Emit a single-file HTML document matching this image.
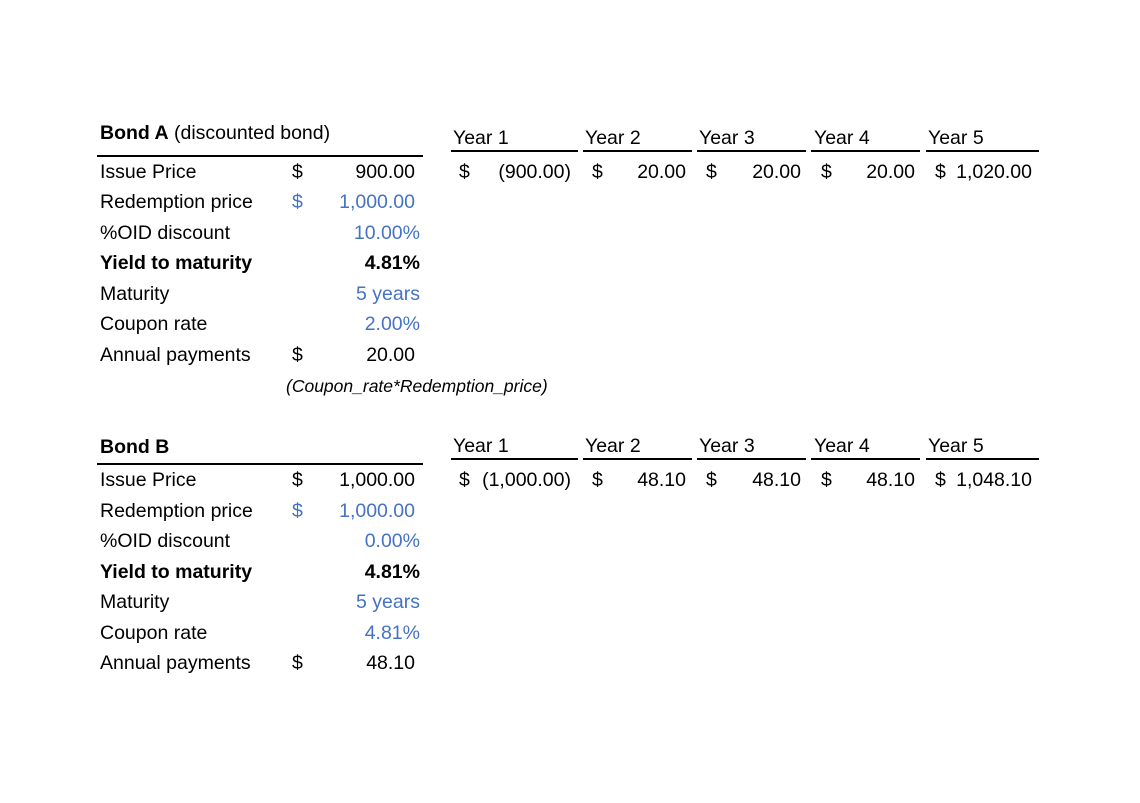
<!DOCTYPE html>
<html><head><meta charset="utf-8"><style>
body{margin:0;background:#fff;}
#c{position:relative;width:1140px;height:803px;overflow:hidden;font-family:"Liberation Sans",sans-serif;font-size:19.5px;color:#000;}
.t{position:absolute;line-height:22px;white-space:nowrap;}
.r{text-align:right;}
.b{color:#4472c4;}
.bold{font-weight:bold;}
.ln{position:absolute;background:#000;}
</style></head><body><div id="c">
<!-- Bond A -->
<div class="t" style="left:100px;top:122px"><b>Bond A</b> (discounted bond)</div>
<div class="ln" style="left:97px;top:155px;width:326px;height:2px"></div>
<div class="t" style="left:100px;top:161px">Issue Price</div>
<div class="t" style="left:292px;top:161px">$</div>
<div class="t r" style="right:725px;top:161px">900.00</div>
<div class="t" style="left:100px;top:191px">Redemption price</div>
<div class="t b" style="left:292px;top:191px">$</div>
<div class="t r b" style="right:725px;top:191px">1,000.00</div>
<div class="t" style="left:100px;top:222px">%OID discount</div>
<div class="t r b" style="right:720px;top:222px">10.00%</div>
<div class="t bold" style="left:100px;top:252px">Yield to maturity</div>
<div class="t r bold" style="right:720px;top:252px">4.81%</div>
<div class="t" style="left:100px;top:283px">Maturity</div>
<div class="t r b" style="right:720px;top:283px">5 years</div>
<div class="t" style="left:100px;top:313px">Coupon rate</div>
<div class="t r b" style="right:720px;top:313px">2.00%</div>
<div class="t" style="left:100px;top:344px">Annual payments</div>
<div class="t" style="left:292px;top:344px">$</div>
<div class="t r" style="right:725px;top:344px">20.00</div>
<div class="t" style="left:286px;top:375px;font-size:17.5px;font-style:italic">(Coupon_rate*Redemption_price)</div>
<!-- years A -->
<div class="t" style="left:453px;top:127px">Year 1</div>
<div class="t" style="left:585px;top:127px">Year 2</div>
<div class="t" style="left:699px;top:127px">Year 3</div>
<div class="t" style="left:814px;top:127px">Year 4</div>
<div class="t" style="left:928px;top:127px">Year 5</div>
<div class="ln" style="left:451px;top:150px;width:127px;height:1.5px"></div>
<div class="ln" style="left:583px;top:150px;width:109px;height:1.5px"></div>
<div class="ln" style="left:697px;top:150px;width:109px;height:1.5px"></div>
<div class="ln" style="left:811px;top:150px;width:109px;height:1.5px"></div>
<div class="ln" style="left:926px;top:150px;width:113px;height:1.5px"></div>
<div class="t" style="left:459px;top:161px">$</div>
<div class="t r" style="right:569px;top:161px">(900.00)</div>
<div class="t" style="left:592px;top:161px">$</div>
<div class="t r" style="right:454px;top:161px">20.00</div>
<div class="t" style="left:706px;top:161px">$</div>
<div class="t r" style="right:339px;top:161px">20.00</div>
<div class="t" style="left:821px;top:161px">$</div>
<div class="t r" style="right:225px;top:161px">20.00</div>
<div class="t" style="left:935px;top:161px">$</div>
<div class="t r" style="right:108px;top:161px">1,020.00</div>
<!-- Bond B -->
<div class="t bold" style="left:100px;top:436px">Bond B</div>
<div class="ln" style="left:97px;top:463px;width:326px;height:2px"></div>
<div class="t" style="left:100px;top:469px">Issue Price</div>
<div class="t" style="left:292px;top:469px">$</div>
<div class="t r" style="right:725px;top:469px">1,000.00</div>
<div class="t" style="left:100px;top:500px">Redemption price</div>
<div class="t b" style="left:292px;top:500px">$</div>
<div class="t r b" style="right:725px;top:500px">1,000.00</div>
<div class="t" style="left:100px;top:530px">%OID discount</div>
<div class="t r b" style="right:720px;top:530px">0.00%</div>
<div class="t bold" style="left:100px;top:561px">Yield to maturity</div>
<div class="t r bold" style="right:720px;top:561px">4.81%</div>
<div class="t" style="left:100px;top:591px">Maturity</div>
<div class="t r b" style="right:720px;top:591px">5 years</div>
<div class="t" style="left:100px;top:622px">Coupon rate</div>
<div class="t r b" style="right:720px;top:622px">4.81%</div>
<div class="t" style="left:100px;top:652px">Annual payments</div>
<div class="t" style="left:292px;top:652px">$</div>
<div class="t r" style="right:725px;top:652px">48.10</div>
<!-- years B -->
<div class="t" style="left:453px;top:435px">Year 1</div>
<div class="t" style="left:585px;top:435px">Year 2</div>
<div class="t" style="left:699px;top:435px">Year 3</div>
<div class="t" style="left:814px;top:435px">Year 4</div>
<div class="t" style="left:928px;top:435px">Year 5</div>
<div class="ln" style="left:451px;top:458px;width:127px;height:1.5px"></div>
<div class="ln" style="left:583px;top:458px;width:109px;height:1.5px"></div>
<div class="ln" style="left:697px;top:458px;width:109px;height:1.5px"></div>
<div class="ln" style="left:811px;top:458px;width:109px;height:1.5px"></div>
<div class="ln" style="left:926px;top:458px;width:113px;height:1.5px"></div>
<div class="t" style="left:459px;top:469px">$</div>
<div class="t r" style="right:569px;top:469px">(1,000.00)</div>
<div class="t" style="left:592px;top:469px">$</div>
<div class="t r" style="right:454px;top:469px">48.10</div>
<div class="t" style="left:706px;top:469px">$</div>
<div class="t r" style="right:339px;top:469px">48.10</div>
<div class="t" style="left:821px;top:469px">$</div>
<div class="t r" style="right:225px;top:469px">48.10</div>
<div class="t" style="left:935px;top:469px">$</div>
<div class="t r" style="right:108px;top:469px">1,048.10</div>
</div></body></html>
